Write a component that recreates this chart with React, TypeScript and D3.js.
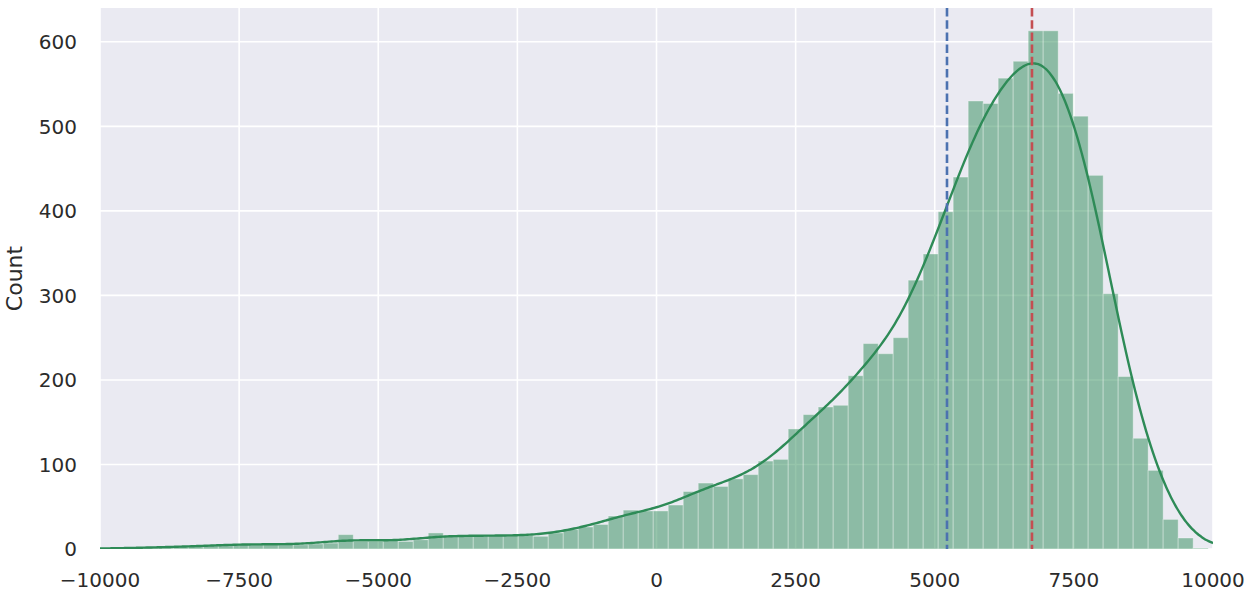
import React from "react";
import * as d3 from "d3";

// ---- data ----
const binStart = -10030;
const binWidth = 269.5;
const counts: number[] = [
  1, 1, 1, 2, 2, 3, 3, 4, 5, 6,
  6, 5, 6, 5, 6, 7, 17, 9, 9, 10,
  9, 11, 19, 15, 15, 16, 16, 16, 16, 15,
  19, 23, 26, 29, 39, 46, 45, 45, 52, 68,
  78, 74, 83, 88, 104, 106, 142, 159, 168, 170,
  205, 243, 231, 250, 318, 349, 399, 440, 530, 527,
  557, 577, 613, 613, 539, 512, 442, 302, 204, 131,
  93, 35, 13, 1,
];
const xTicks = [-10000, -7500, -5000, -2500, 0, 2500, 5000, 7500, 10000];
const yTicks = [0, 100, 200, 300, 400, 500, 600];
const meanValue = 5220;
const medianValue = 6747;
const xDomain: [number, number] = [-10000, 10000];
const yDomain: [number, number] = [0, 640];
const bwAdjust = 1.1;

const W = 1252;
const H = 596;
const M = { left: 100, right: 1213, top: 8, bottom: 549 };

export default function App() {
  const x = d3.scaleLinear().domain(xDomain).range([M.left, M.right]);
  const y = d3.scaleLinear().domain(yDomain).range([M.bottom, M.top]);

  const bins = counts.map((c, i) => ({
    x0: binStart + i * binWidth,
    x1: binStart + (i + 1) * binWidth,
    c,
  }));

  // KDE from binned data (Scott's rule), scaled to counts
  const n = d3.sum(counts);
  const centers = bins.map((b) => (b.x0 + b.x1) / 2);
  const mean = d3.sum(bins, (b, i) => b.c * centers[i]) / n;
  const variance =
    d3.sum(bins, (b, i) => b.c * (centers[i] - mean) ** 2) / (n - 1);
  const bw = Math.sqrt(variance) * Math.pow(n, -1 / 5) * bwAdjust;
  const kdeXs = d3.range(xDomain[0], xDomain[1] + 1, 40);
  const kde = kdeXs.map((xv) => {
    let s = 0;
    for (let i = 0; i < bins.length; i++) {
      const u = (xv - centers[i]) / bw;
      s += bins[i].c * Math.exp(-0.5 * u * u);
    }
    const dens = s / (n * bw * Math.sqrt(2 * Math.PI));
    return [xv, dens * n * binWidth] as [number, number];
  });
  const line = d3
    .line<[number, number]>()
    .x((d) => x(d[0]))
    .y((d) => y(d[1]))
    .curve(d3.curveBasis);

  const fmt = (v: number) => (v < 0 ? "\u2212" + Math.abs(v) : String(v));
  const font = "'DejaVu Sans', sans-serif";
  const textColor = "#2b2b2b";

  return (
    <div style={{ position: "fixed", left: 0, top: 0 }}>
      <svg width={W} height={H} style={{ display: "block" }}>
        <defs>
          <clipPath id="plot">
            <rect x={M.left} y={M.top} width={M.right - M.left} height={M.bottom - M.top} />
          </clipPath>
        </defs>
        <rect width={W} height={H} fill="#ffffff" />
        <rect
          x={M.left}
          y={M.top}
          width={M.right - M.left}
          height={M.bottom - M.top}
          fill="#eaeaf2"
        />
        {xTicks.map((t) => (
          <line key={"gx" + t} x1={x(t)} x2={x(t)} y1={M.top} y2={M.bottom} stroke="#ffffff" strokeWidth={1.6} />
        ))}
        {yTicks.map((t) => (
          <line key={"gy" + t} x1={M.left} x2={M.right} y1={y(t)} y2={y(t)} stroke="#ffffff" strokeWidth={1.6} />
        ))}
        <g clipPath="url(#plot)">
          {bins.map((b, i) => (
            <rect
              key={i}
              x={x(b.x0)}
              y={y(b.c)}
              width={x(b.x1) - x(b.x0)}
              height={y(0) - y(b.c)}
              fill="#2e8b57"
              fillOpacity={0.5}
              stroke="#ffffff"
              strokeOpacity={0.35}
              strokeWidth={1}
            />
          ))}
          <path d={line(kde) || ""} fill="none" stroke="#2e8b57" strokeWidth={2.4} />
          <line
            x1={x(meanValue)}
            x2={x(meanValue)}
            y1={M.top}
            y2={M.bottom}
            stroke="#4c72b0"
            strokeWidth={2.6}
            strokeDasharray="8.5 3.7"
          />
          <line
            x1={x(medianValue)}
            x2={x(medianValue)}
            y1={M.top}
            y2={M.bottom}
            stroke="#c44e52"
            strokeWidth={2.6}
            strokeDasharray="8.5 3.7"
          />
        </g>
        {xTicks.map((t) => (
          <text
            key={"tx" + t}
            x={x(t)}
            y={587}
            textAnchor="middle"
            fontFamily={font}
            fontSize={20}
            fill={textColor}
          >
            {fmt(t)}
          </text>
        ))}
        {yTicks.map((t) => (
          <text
            key={"ty" + t}
            x={77}
            y={y(t)}
            dy="0.36em"
            textAnchor="end"
            fontFamily={font}
            fontSize={20}
            fill={textColor}
          >
            {fmt(t)}
          </text>
        ))}
        <text
          transform={`translate(22, ${(M.top + M.bottom) / 2}) rotate(-90)`}
          textAnchor="middle"
          fontFamily={font}
          fontSize={22}
          fill={textColor}
        >
          Count
        </text>
      </svg>
    </div>
  );
}
